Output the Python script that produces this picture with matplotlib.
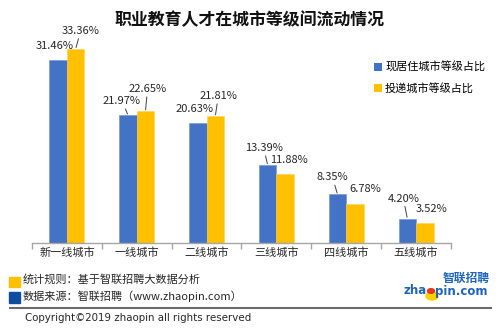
import numpy as np
import matplotlib
matplotlib.use("Agg")
import matplotlib.pyplot as plt
from matplotlib.patches import Rectangle, Circle, Patch
from matplotlib.lines import Line2D

plt.rcParams['font.family'] = ['Noto Sans CJK SC', 'DejaVu Sans']

# data
cities = ['新一线城市', '一线城市', '二线城市', '三线城市', '四线城市', '五线城市']
live = [31.46, 21.97, 20.63, 13.39, 8.35, 4.20]   # 现居住城市等级占比
apply = [33.36, 22.65, 21.81, 11.88, 6.78, 3.52]  # 投递城市等级占比
series_names = ['现居住城市等级占比', '投递城市等级占比']

# label placement (pixel offsets from bar top) and which ones get a leader line
live_off = [(-4, 14), (-6, 14), (-3, 14), (-4, 17), (-5, 17), (-4, 20)]
live_leader = [False, True, False, True, True, True]
apply_off = [(5, 18), (2, 22), (3, 20), (4, 14), (10, 15), (7, 14)]
apply_leader = [True, True, True, False, False, False]

BLUE = '#4472C4'
GOLD = '#FFC000'

W, H = 500, 332
fig = plt.figure(figsize=(W / 100, H / 100), dpi=100)

def fx(x):
    return x / W

def fy(y):
    return 1 - y / H

ax = fig.add_axes([fx(32), fy(243), (451 - 32) / W, (243 - 39.3) / H])
x = np.arange(len(cities))
bw = 0.25
b1 = ax.bar(x - bw / 2, live, bw, color=BLUE, edgecolor='#6f93d4', linewidth=0.4)
b2 = ax.bar(x + bw / 2, apply, bw, color=GOLD, edgecolor='#ffd34d', linewidth=0.4)

ax.set_xlim(-0.5, len(cities) - 0.5)
ax.set_ylim(0, 35)
for s in ['top', 'right', 'left']:
    ax.spines[s].set_visible(False)
ax.spines['bottom'].set_color('#a6a6a6')
ax.spines['bottom'].set_linewidth(1)
ax.set_yticks([])
ax.set_xticks(x)
ax.set_xticklabels(cities, fontsize=8, color='#262626')
ax.tick_params(axis='x', which='major', length=0, pad=3)
ax.set_xticks(np.arange(len(cities) + 1) - 0.5, minor=True)
ax.tick_params(axis='x', which='minor', length=4, color='#a6a6a6', width=1)


def label(bars, vals, offs, leaders):
    for rect, v, (dx, dy), ld in zip(bars, vals, offs, leaders):
        xc = rect.get_x() + rect.get_width() / 2
        props = None
        if ld:
            props = dict(arrowstyle='-', color='#404040', lw=0.7,
                         shrinkA=0, shrinkB=1)
        ax.annotate(f'{v:.2f}%', xy=(xc, v), xytext=(dx, dy),
                    textcoords='offset pixels', ha='center', va='center',
                    fontsize=8, color='#262626', arrowprops=props,
                    annotation_clip=False)


label(b1, live, live_off, live_leader)
label(b2, apply, apply_off, apply_leader)

handles = [Patch(facecolor=BLUE), Patch(facecolor=GOLD)]
fig.legend(handles, series_names, loc='upper left',
           bbox_to_anchor=(fx(374), fy(62)), frameon=False, fontsize=8,
           handlelength=0.75, handleheight=0.75, handletextpad=0.25,
           labelspacing=0.85, borderpad=0, borderaxespad=0)

fig.text(0.5, fy(20), '职业教育人才在城市等级间流动情况', ha='center', va='center',
         fontsize=12.2, fontweight='bold', color='#111111')

# footer
fig.patches.append(Rectangle((fx(9), fy(287)), 11 / W, 10 / H,
                             transform=fig.transFigure, color=GOLD))
fig.patches.append(Rectangle((fx(9), fy(303)), 11 / W, 11 / H,
                             transform=fig.transFigure, color='#0f4c9f'))
fig.text(fx(23), fy(279), '统计规则：基于智联招聘大数据分析', ha='left', va='center',
         fontsize=8, color='#262626')
fig.text(fx(23), fy(296), '数据来源：智联招聘（www.zhaopin.com）', ha='left', va='center',
         fontsize=8, color='#262626')
fig.lines.append(Line2D([fx(10), fx(491)], [fy(308), fy(308)],
                        transform=fig.transFigure, color='#6b6b6b', lw=1.5))
fig.text(fx(25), fy(318), 'Copyright©2019 zhaopin all rights reserved', ha='left',
         va='center', fontsize=7.4, color='#262626', family='DejaVu Sans')

# logo
LOGO = '#1d64c0'
fig.patches.append(Circle((fx(432), fy(296)), 6 / W, transform=fig.transFigure,
                          color='#ffd000', zorder=1))
fig.text(fx(466), fy(278), '智联招聘', ha='center', va='center', fontsize=8.5,
         fontweight='bold', style='italic', color=LOGO)
fig.text(fx(427), fy(291), 'zha', ha='right', va='center', fontsize=8.5,
         fontweight='bold', color=LOGO, family='DejaVu Sans', zorder=3)
fig.patches.append(Circle((fx(431), fy(291)), 3.5 / W, transform=fig.transFigure,
                          color='#e8381b', zorder=2))
fig.text(fx(435), fy(291), 'pin.com', ha='left', va='center', fontsize=8.5,
         fontweight='bold', color=LOGO, family='DejaVu Sans', zorder=3)

fig.savefig('out.png', dpi=100)
